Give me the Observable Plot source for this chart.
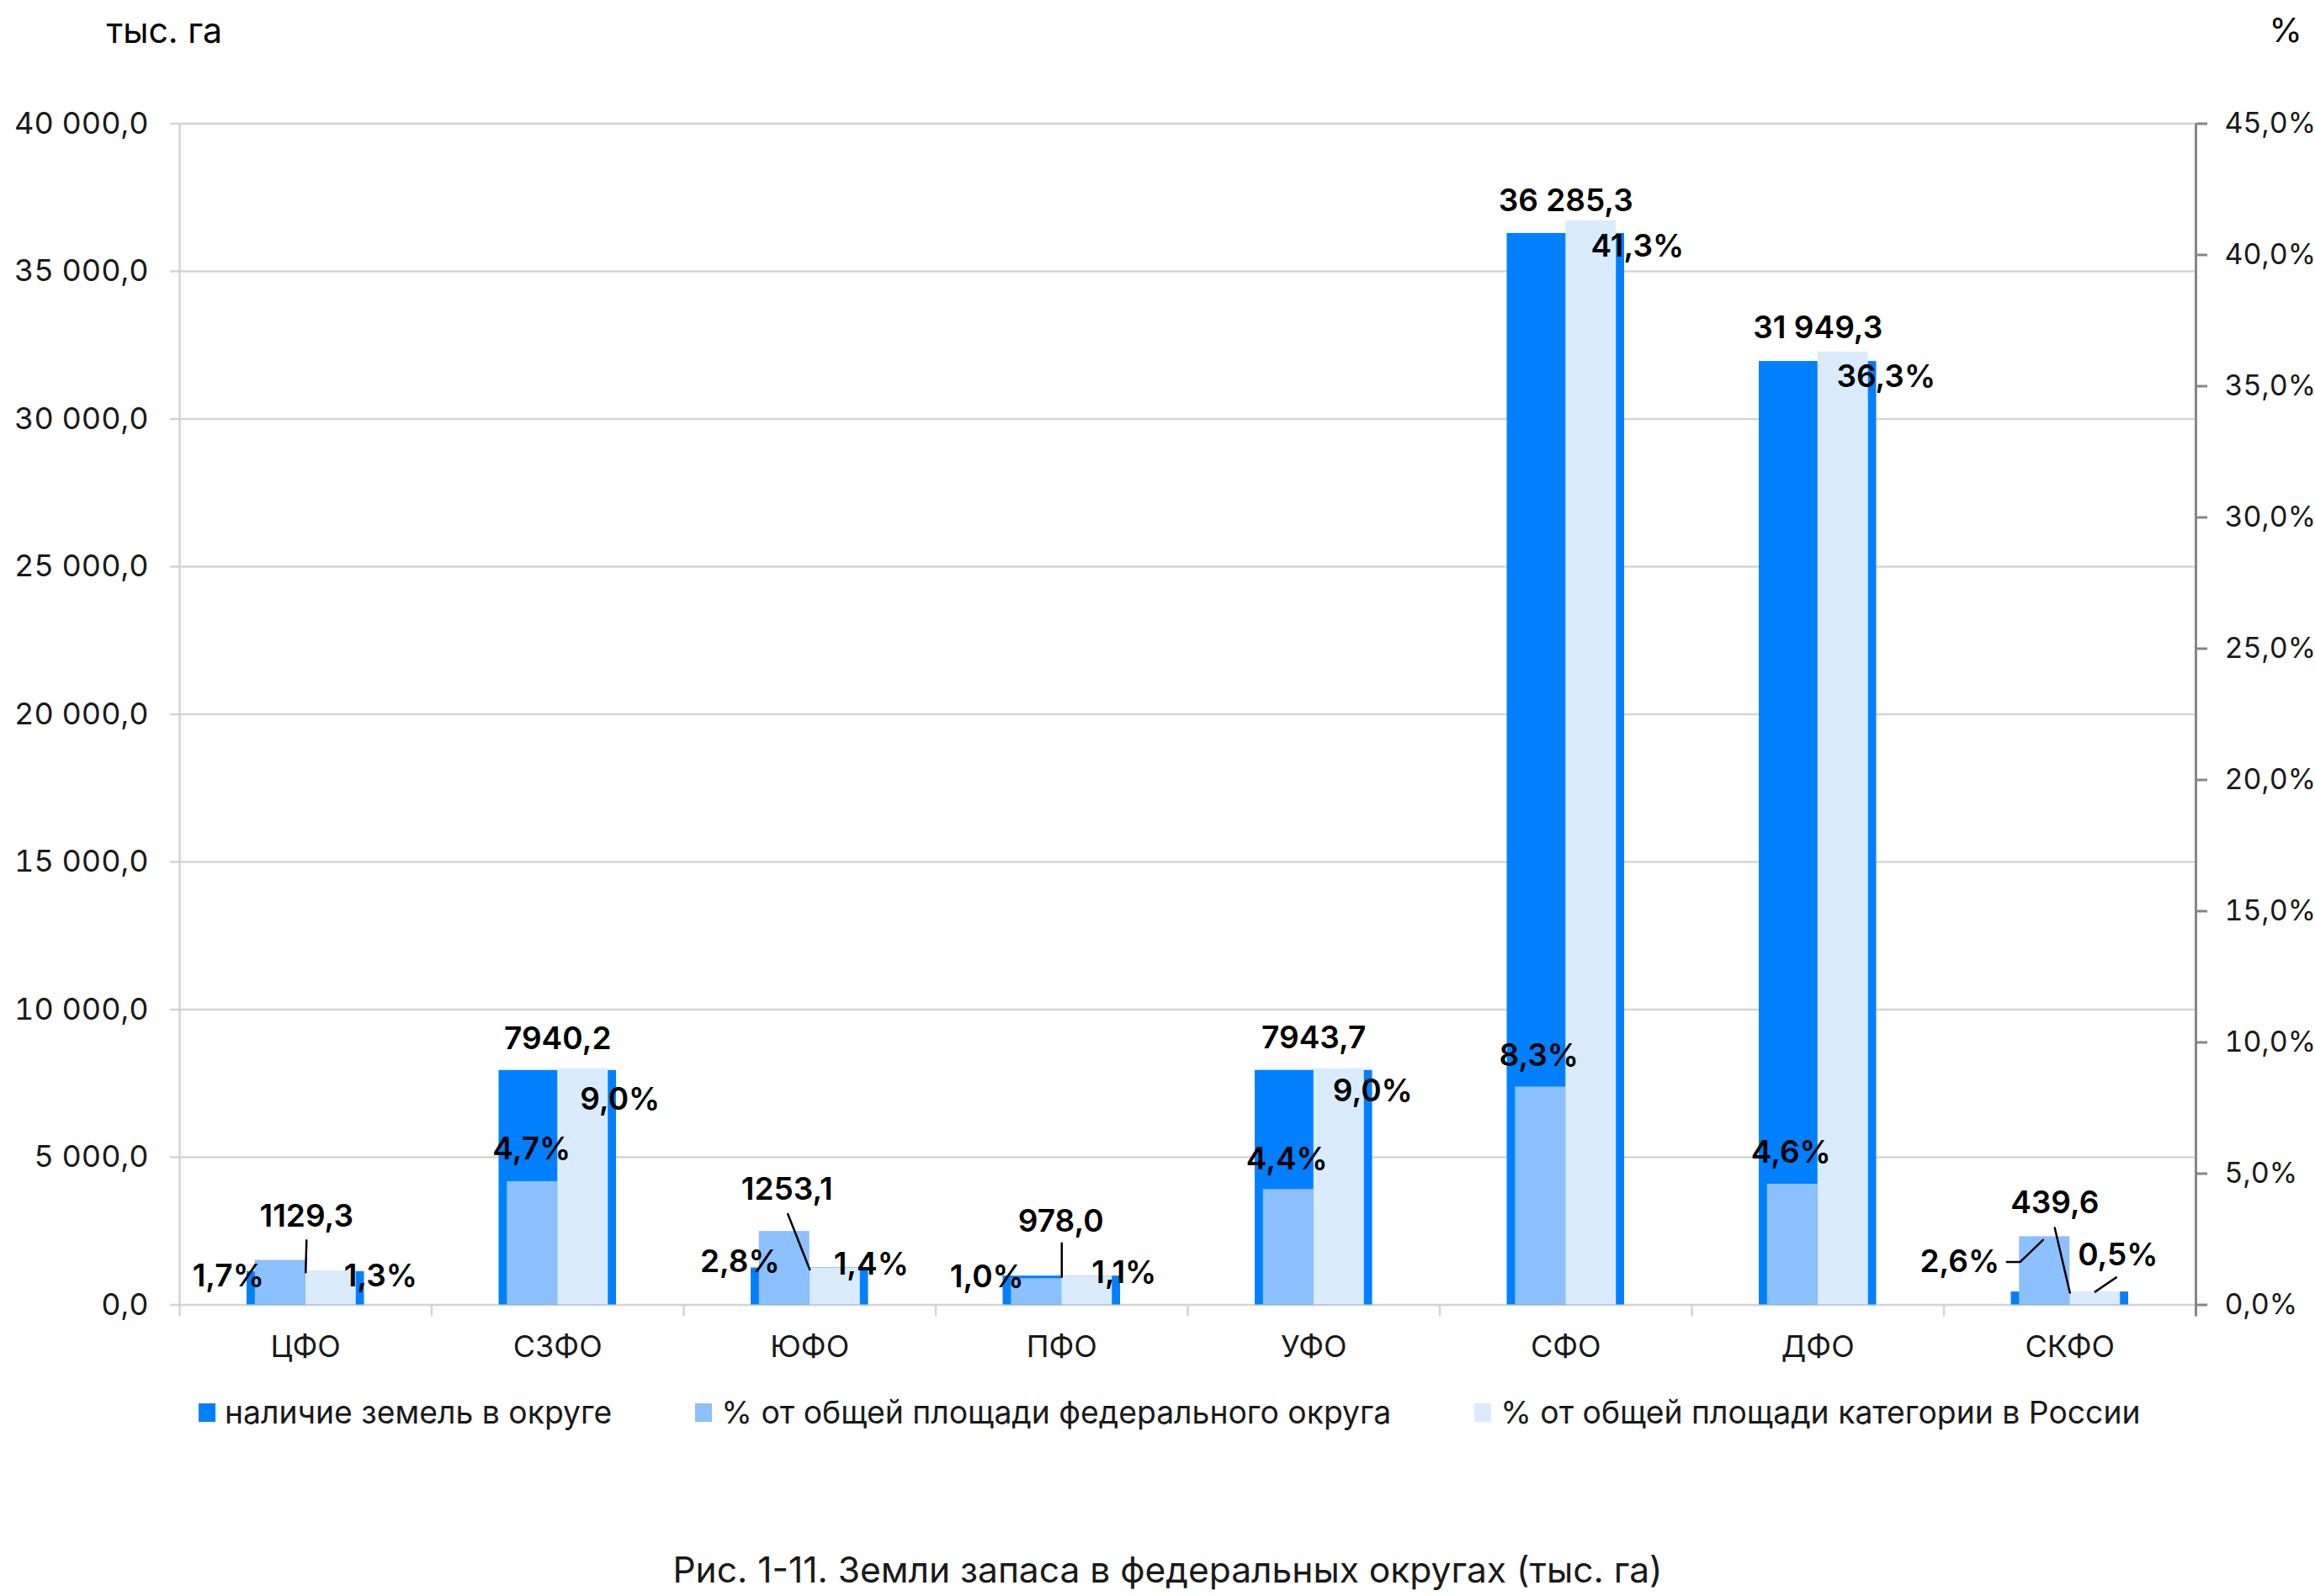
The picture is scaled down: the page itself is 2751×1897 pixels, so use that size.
<!DOCTYPE html>
<html>
<head>
<meta charset="utf-8">
<script src="https://cdn.jsdelivr.net/npm/d3@7"></script>
<script src="https://cdn.jsdelivr.net/npm/@observablehq/plot@0.6"></script>
<style>
  html, body { margin: 0; padding: 0; background: #fff; }
  #wrap { position: relative; width: 2751px; height: 1897px; font-family: Inter, "Noto Sans", sans-serif; color: #1a1a1a; }
  #chart svg { display: block; }
  #legend { position: absolute; left: 236px; top: 1657px; display: flex; gap: 99px; font-size: 37.3px; line-height: 44px; white-space: nowrap; }
  .item { display: flex; align-items: center; }
  .sw { width: 20px; height: 22px; margin-right: 11px; flex: none; }
  #caption { position: absolute; left: 12px; top: 1842px; width: 2751px; text-align: center; font-size: 42.5px; line-height: 48px; white-space: nowrap; }
</style>
</head>
<body>
<div id="wrap">
  <div id="chart"></div>
  <div id="legend"></div>
  <div id="caption"></div>
</div>
<script>
// ---------- data ----------
const districts = ["ЦФО", "СЗФО", "ЮФО", "ПФО", "УФО", "СФО", "ДФО", "СКФО"];
const reserveArea = [1129.3, 7940.2, 1253.1, 978.0, 7943.7, 36285.3, 31949.3, 439.6];   // тыс. га
const shareOfDistrict = [1.7, 4.7, 2.8, 1.0, 4.4, 8.3, 4.6, 2.6];                        // %
const shareOfRussia = [1.3, 9.0, 1.4, 1.1, 9.0, 41.3, 36.3, 0.5];                         // %
const areaTicks = [0, 5000, 10000, 15000, 20000, 25000, 30000, 35000, 40000];
const pctTicks = [0, 5, 10, 15, 20, 25, 30, 35, 40, 45];
const seriesNames = [
  "наличие земель в округе",
  "% от общей площади федерального округа",
  "% от общей площади категории в России"
];
const leftUnit = "тыс. га";
const rightUnit = "%";
const captionText = "Рис. 1-11. Земли запаса в федеральных округах (тыс. га)";

// ---------- label layout (pixel offsets from each value point) ----------
const areaDx = [1, 0, -27, -1, 0, 0, 0, -18];
const areaDy = [-65, -37, -93, -65, -38, -38, -39, -105];
const distDx = [-92, -31, -83, -89, -32, -32, -32, -131];
const distDy = [19, -38, 37, -2, -36, -37, -37, 30];
const rusDx = [89, 74, 73, 74, 70, 85, 81, 57];
const rusDy = [7, 37, -4, -4, 27, 31, 30, -43];
const leaderPaths = [
  {i: 0, series: "area", path: [[1, -37], [0, 1]]},
  {i: 2, series: "area", path: [[-26, -64], [0, 2]]},
  {i: 3, series: "area", path: [[0, -39], [0, 1]]},
  {i: 7, series: "area", path: [[-18, -76], [0, 1]]},
  {i: 7, series: "dist", path: [[-75, 30], [-59, 30], [-32, 4]]},
  {i: 7, series: "rus", path: [[55, -17], [30, 0]]}
];

// ---------- styles ----------
const C = {dark: "#0080FF", mid: "#8CC0FF", light: "#DBEBFF", grid: "#d4d4d4", axisR: "#868686", text: "#1a1a1a"};
const W = 2751, H = 1640;
const M = {top: 146.5, right: 142, bottom: 89.5, left: 213};
const yMax = 40000, pMax = 45, k = yMax / pMax;

// ---------- formatting ----------
const ru = d3.formatLocale({decimal: ",", thousands: " ", grouping: [3], currency: ["", ""]});
const fmtAxis = ru.format(",.1f");
const fmtVal = v => v >= 10000 ? ru.format(",.1f")(v) : ru.format(".1f")(v);
const fmtPct = p => ru.format(".1f")(p) + "%";

// ---------- derived ----------
const rows = districts.map((name, i) => ({
  i, name, area: reserveArea[i], dist: shareOfDistrict[i], rus: shareOfRussia[i]
}));
const xDomain = [-0.5, districts.length - 0.5];
const xs = Plot.scale({x: {domain: xDomain, range: [M.left, W - M.right]}});
const ys = Plot.scale({y: {domain: [0, yMax], range: [H - M.bottom, M.top]}});
const at = (i, v, ox, oy) => ({x: xs.invert(xs.apply(i) + ox), y: ys.invert(ys.apply(v) + oy)});
const seriesValue = (s, i) => s === "area" ? reserveArea[i] : s === "dist" ? shareOfDistrict[i] * k : shareOfRussia[i] * k;

const labels = [];
rows.forEach(r => {
  labels.push({...at(r.i, r.area, areaDx[r.i], areaDy[r.i]), text: fmtVal(r.area)});
  labels.push({...at(r.i, r.dist * k, distDx[r.i], distDy[r.i]), text: fmtPct(r.dist)});
  labels.push({...at(r.i, r.rus * k, rusDx[r.i], rusDy[r.i]), text: fmtPct(r.rus)});
});
const leaderPts = [];
leaderPaths.forEach((l, j) => {
  const v = seriesValue(l.series, l.i);
  l.path.forEach(([ox, oy]) => leaderPts.push({id: j, ...at(l.i, v, ox, oy)}));
});
const boundaries = d3.range(0.5, districts.length - 0.5, 1);

const chart = Plot.plot({
  width: W,
  height: H,
  marginTop: M.top,
  marginRight: M.right,
  marginBottom: M.bottom,
  marginLeft: M.left,
  x: {domain: xDomain, axis: null},
  y: {domain: [0, yMax]},
  style: {fontFamily: "Inter, 'Noto Sans', sans-serif", background: "#fff", color: C.text, overflow: "visible"},
  marks: [
    Plot.gridY(areaTicks, {stroke: C.grid, strokeOpacity: 1, strokeWidth: 2.5}),
    Plot.axisY(areaTicks, {anchor: "left", tickSize: 11, tickPadding: 26, tickFormat: fmtAxis,
      stroke: C.grid, strokeWidth: 2.5, fill: C.text, fontSize: 36, label: null}),
    Plot.ruleX([xDomain[0]], {y1: yMax, y2: 0, stroke: C.grid, strokeWidth: 2.5, insetBottom: -14}),
    Plot.ruleX(boundaries, {y1: 0, y2: 0, stroke: C.grid, strokeWidth: 2.5, insetBottom: -14}),
    // bars
    Plot.rect(rows, {x1: d => d.i - 0.5, x2: d => d.i + 0.5, y1: 0, y2: "area", fill: C.dark, insetLeft: 80, insetRight: 80}),
    Plot.rect(rows, {x1: d => d.i - 0.5, x2: d => d.i, y1: 0, y2: d => d.dist * k, fill: C.mid, insetLeft: 89.75}),
    Plot.rect(rows, {x1: d => d.i, x2: d => d.i + 0.5, y1: 0, y2: d => d.rus * k, fill: C.light, insetRight: 89.75}),
    // right axis
    Plot.ruleX([xDomain[1]], {y1: yMax, y2: 0, stroke: C.axisR, strokeWidth: 3, insetBottom: -14}),
    Plot.axisY(pctTicks.map(p => p * k), {anchor: "right", tickSize: 13, tickPadding: 21,
      tickFormat: d => fmtPct(d / k), stroke: C.axisR, strokeWidth: 3, fill: C.text, fontSize: 34, label: null}),
    // leaders and labels
    Plot.line(leaderPts, {x: "x", y: "y", z: "id", stroke: "#000", strokeWidth: 2.5}),
    Plot.text(labels, {x: "x", y: "y", text: "text", fontSize: 37, fontWeight: 600, fill: "#000"}),
    // category labels
    Plot.text(rows, {x: "i", frameAnchor: "bottom", dy: 61.5, text: "name", fontSize: 36, fill: C.text}),
    // unit labels
    Plot.text([leftUnit], {frameAnchor: "top-left", dx: -87, dy: -125, textAnchor: "start", fontSize: 41, fill: "#000"}),
    Plot.text([rightUnit], {frameAnchor: "top-right", dx: 87, dy: -125, textAnchor: "start", fontSize: 40, fill: "#000"})
  ]
});
document.getElementById("chart").appendChild(chart);

// legend
const legend = document.getElementById("legend");
[C.dark, C.mid, C.light].forEach((c, j) => {
  const item = document.createElement("div");
  item.className = "item";
  const sw = document.createElement("span");
  sw.className = "sw";
  sw.style.background = c;
  const t = document.createElement("span");
  t.textContent = seriesNames[j];
  item.appendChild(sw);
  item.appendChild(t);
  legend.appendChild(item);
});
document.getElementById("caption").textContent = captionText;
</script>
</body>
</html>
